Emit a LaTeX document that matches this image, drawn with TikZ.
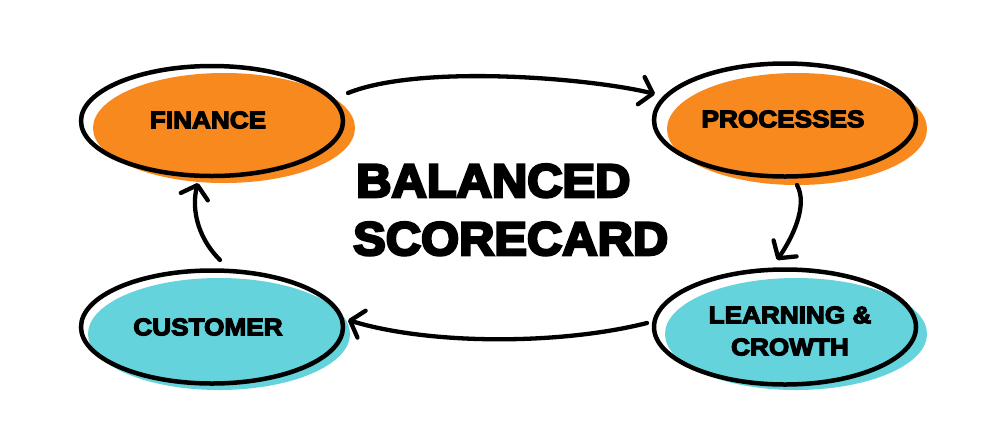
\documentclass[tikz,border=0pt]{standalone}
\usepackage{fontspec}
\newfontfamily\heavyfont{Liberation Sans Bold}[FakeBold=5.5,FakeStretch=1.04]
\newfontfamily\labelfont{Liberation Sans Bold}[FakeBold=5,FakeStretch=1.09]
\usetikzlibrary{shapes.geometric,arrows.meta,calc}
\definecolor{orng}{RGB}{248,137,30}
\definecolor{tealc}{RGB}{100,211,219}
\begin{document}
\begin{tikzpicture}[x=1pt,y=-1pt,
  oval/.style={ellipse, draw=black, line width=4.5pt, inner sep=0pt},
  lbl/.style={font=\labelfont\fontsize{24}{32}\selectfont, text=black, align=center},
  ttl/.style={font=\heavyfont\fontsize{47}{58}\selectfont, text=black, inner sep=0pt},
  conn/.style={line width=4.3pt, line cap=round,
    -{Straight Barb[length=12pt,width=28pt,line cap=round,line join=round]}}]
\fill[white] (0,0) rectangle (1000,421);
\useasboundingbox (0,0) rectangle (1000,421);
% colour patches
\fill[orng]  (224,128) ellipse [x radius=131pt, y radius=55pt];
\fill[orng]  (797,129) ellipse [x radius=130pt, y radius=56pt];
\fill[tealc] (796,334) ellipse [x radius=131pt, y radius=56pt];
\fill[tealc] (219,334) ellipse [x radius=131pt, y radius=56pt];
% outlines
\node[oval, minimum width=262pt, minimum height=110pt] (fin)   at (212,121) {};
\node[oval, minimum width=262pt, minimum height=113pt] (proc)  at (785,120) {};
\node[oval, minimum width=262pt, minimum height=115pt] (learn) at (785,327) {};
\node[oval, minimum width=262pt, minimum height=113pt] (cust)  at (212,327) {};
% labels
\node[lbl] (finT)   at (208,120) {FINANCE};
\node[lbl] (procT)  at (783,119) {PROCESSES};
\node[lbl] (learnT) at (790,331) {LEARNING \&\\CROWTH};
\node[lbl] (custT)  at (208,327) {CUSTOMER};
% title
\node[ttl, anchor=base west] (t1) at (356,197) {BALANCED};
\node[ttl, anchor=base west] (t2) at (353,255) {SCORECARD};
% connectors
\draw[conn] ($(fin)+(136,-28)$) .. controls (420,64) and (590,78) .. ($(proc)+(-130,-26)$);
\draw[conn] ($(proc)+(12,65)$) .. controls (808,205) and (793,237) .. ($(learn)+(-8,-67)$);
\draw[conn] ($(learn)+(-138,-4)$) .. controls (560,345) and (430,345) .. ($(cust)+(136,-7)$);
\draw[conn] ($(cust)+(8,-67)$) .. controls (195,235) and (192,205) .. ($(fin)+(-14,62)$);
\end{tikzpicture}
\end{document}
